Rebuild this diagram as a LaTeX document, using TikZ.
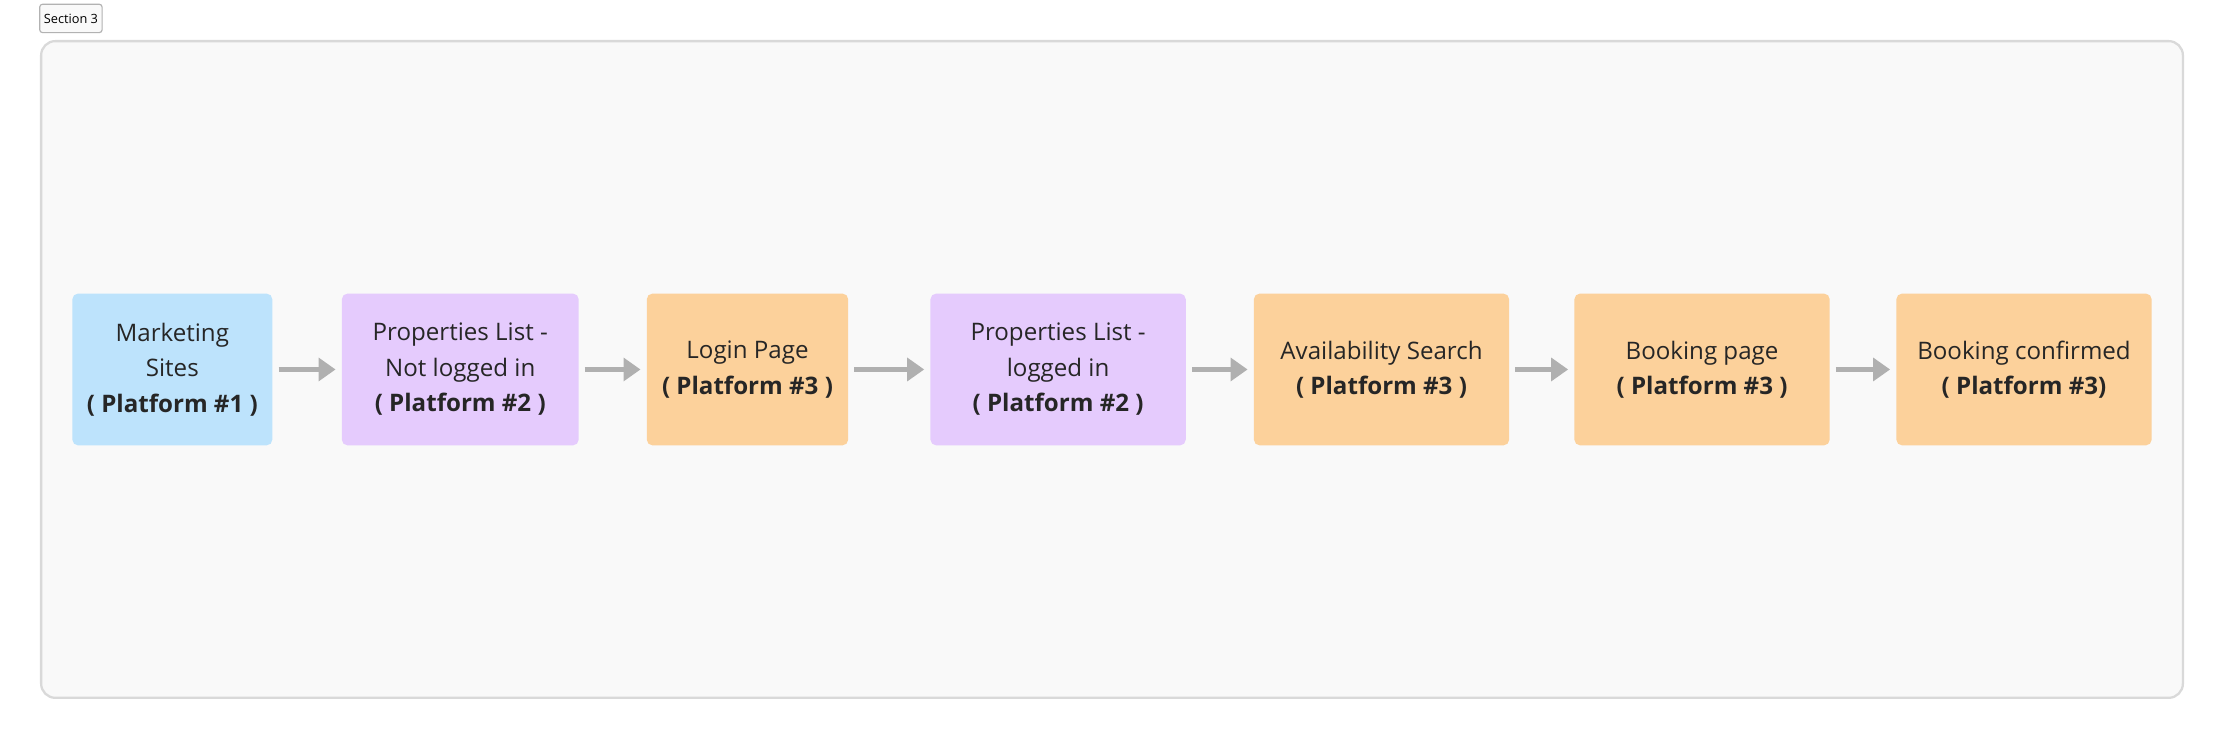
\documentclass[tikz,border=0pt]{standalone}
\usepackage{fontspec}
\setmainfont{Open Sans}
\usetikzlibrary{arrows.meta,positioning}
\definecolor{sitesblue}{HTML}{BDE3FC}
\definecolor{platpurple}{HTML}{E5CBFD}
\definecolor{platorange}{HTML}{FCD19B}
\definecolor{framegray}{HTML}{F9F9F9}
\definecolor{arrowgray}{HTML}{B0B0B0}
\tikzset{
	stepbox/.style={draw=none, rounded corners=2pt, minimum height=53.5pt, align=center, inner sep=2pt, font=\fontsize{8.5}{12.5}\selectfont, text=black!85},
	flow/.style={-{Triangle[length=6pt,width=8pt]}, line width=1.5pt, draw=arrowgray, shorten <=2pt, shorten >=2pt}
}
\begin{document}
\begin{tikzpicture}[x=0.5pt,y=-0.5pt]
	\useasboundingbox (0,0) rectangle (1568,522);
	\fill[white] (0,0) rectangle (1568,522);
	
	\node[draw=black!30, fill=framegray, rounded corners=1pt, minimum width=22pt, minimum height=10pt, inner sep=1pt, font=\fontsize{4.5}{5}\selectfont] (tab) at (50,13) {Section 3};
	\draw[black!15, fill=framegray, line width=0.8pt, rounded corners=5pt] (29,29) rectangle (1539,492);
	
	\node[stepbox, fill=sitesblue, minimum width=70.5pt] (mkt) at (121.5,260.5) {Marketing\\Sites\\\textbf{( Platform \#1 )}};
	\node[stepbox, fill=platpurple, minimum width=83.5pt] (plnot) at (324.5,260.5) {Properties List -\\Not logged in\\\textbf{( Platform \#2 )}};
	\node[stepbox, fill=platorange, minimum width=71pt] (login) at (527,260.5) {Login Page\\\textbf{( Platform \#3 )}};
	\node[stepbox, fill=platpurple, minimum width=90pt] (plin) at (746,260.5) {Properties List -\\logged in\\\textbf{( Platform \#2 )}};
	\node[stepbox, fill=platorange, minimum width=90pt] (avail) at (974,260.5) {Availability Search\\\textbf{( Platform \#3 )}};
	\node[stepbox, fill=platorange, minimum width=90pt] (booking) at (1200,260.5) {Booking page\\\textbf{( Platform \#3 )}};
	\node[stepbox, fill=platorange, minimum width=90pt] (confirmed) at (1427,260.5) {Booking confirmed\\\textbf{( Platform \#3)}};
	
	\draw[flow] (mkt) -- (plnot);
	\draw[flow] (plnot) -- (login);
	\draw[flow] (login) -- (plin);
	\draw[flow] (plin) -- (avail);
	\draw[flow] (avail) -- (booking);
	\draw[flow] (booking) -- (confirmed);
\end{tikzpicture}
\end{document}
